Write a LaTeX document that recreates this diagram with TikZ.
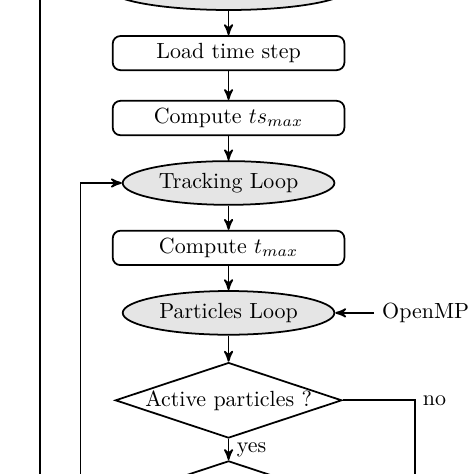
\documentclass[tikz,border=0pt]{standalone}
\usepackage{amsmath}
\usepackage{amssymb}
\usetikzlibrary{shapes.geometric, positioning, arrows}
\tikzset{->, >=stealth', node distance = 1.04cm, on grid,
  block/.style = {draw, rectangle, rounded corners=3.5pt, minimum width=3.71cm, minimum height=0.53cm},
  loopnode/.style = {draw, ellipse, fill=gray!20, inner sep=1pt, minimum width=3.39cm, minimum height=0.7cm},
  decision/.style = {draw, diamond, aspect=3, inner sep=0pt, minimum width=3.62cm, minimum height=1.2cm}}

\begin{document}
\begin{tikzpicture}[thick]
    \useasboundingbox (-3.66,0.85) rectangle (3.92,-6.74);
    \node[block] (load) {Load time step};
    \node[loopnode, minimum width=3.86cm, above=of load] (timeloop) {};
    \node[block, below=of load] (tsmax) {Compute $ts_{max}$};
    \node[loopnode, below=of tsmax] (track) {Tracking Loop};
    \node[block, below=of track] (tmax) {Compute $t_{max}$};
    \node[loopnode, below=of tmax] (ploop) {Particles Loop};
    \node[decision, below=1.4cm of ploop] (active) {Active particles ?};
    \node[decision, below=1.57cm of active] (next) {};
    \node[on grid=false, right=0.62cm of ploop] (omp) {OpenMP};
    \coordinate (outtop) at (-3.02,0.85);
    \coordinate (outbot) at (-3.02,-6.74);
    \coordinate (backbot) at (-2.37,-6.74);
    \coordinate (nobot) at (2.98,-6.74);
    \draw (timeloop) -- (load);
    \draw (load) -- (tsmax);
    \draw (tsmax) -- (track);
    \draw (track) -- (tmax);
    \draw (tmax) -- (ploop);
    \draw (ploop) -- (active);
    \draw (active) -- node[right]{yes} (next);
    \draw (omp) -- (ploop);
    \draw[-] (active.east) -| node[pos=0.5, right]{no} (nobot);
    \draw (backbot) |- (track);
    \draw[-] (outtop) -- (outbot);
\end{tikzpicture}
\end{document}
